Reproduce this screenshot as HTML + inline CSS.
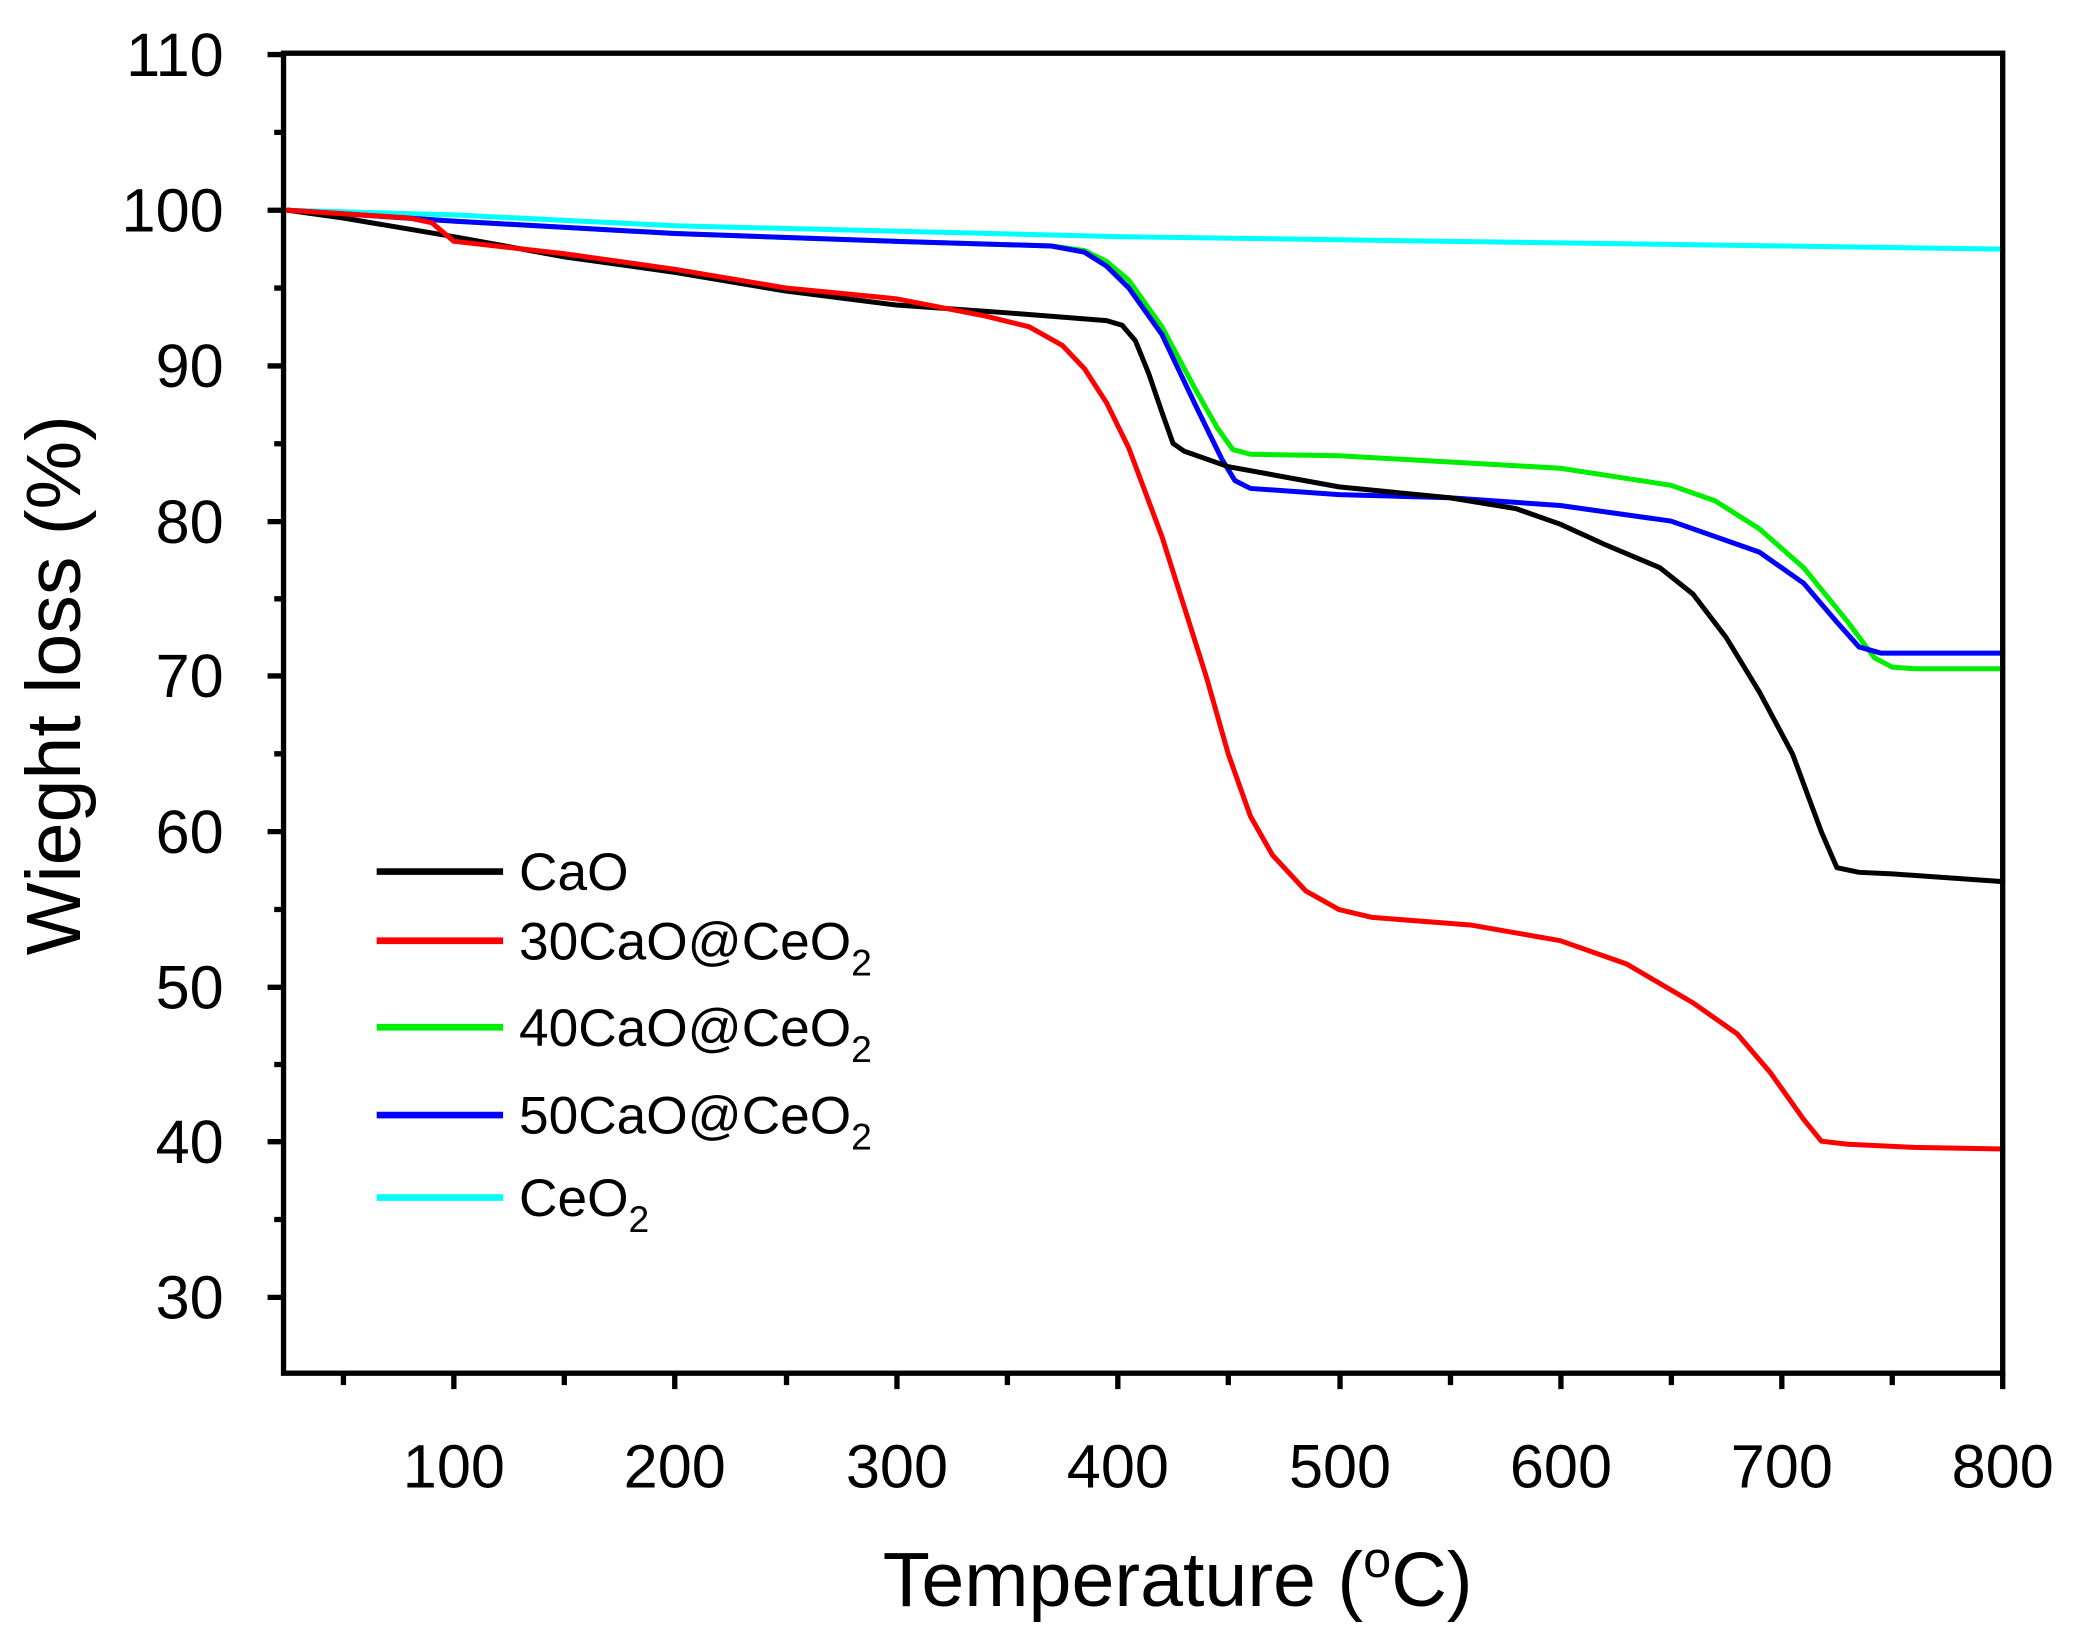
<!DOCTYPE html>
<html><head><meta charset="utf-8"><style>html,body{margin:0;padding:0;background:#fff}svg{display:block}text{font-family:"Liberation Sans",Arial,sans-serif;fill:#000}</style></head>
<body>
<svg width="2076" height="1634" viewBox="0 0 1560 1228" xmlns="http://www.w3.org/2000/svg">
<g transform="matrix(1.663 0 0 -11.68 174.7 1326)" fill="none" stroke-linejoin="round" stroke-linecap="round" stroke-width="5">
<polyline vector-effect="non-scaling-stroke" stroke="#00ffff" points="25,100 100,99.7 200,99 400,98.3 600,97.9 800,97.5"/>
<polyline vector-effect="non-scaling-stroke" stroke="#00ee00" points="25,100 100,99.3 200,98.5 300,98 370,97.7 385,97.4 395,96.7 405,95.5 420,92.5 435,88.5 445,86 452,84.6 460,84.3 500,84.2 600,83.4 650,82.3 670,81.3 690,79.5 710,77 730,73.5 742,71.2 750,70.6 760,70.5 800,70.5"/>
<polyline vector-effect="non-scaling-stroke" stroke="#0000ff" points="25,100 100,99.3 200,98.5 300,98 370,97.7 385,97.3 395,96.4 405,95 420,92 435,87.5 447,84 453,82.6 460,82.1 500,81.7 550,81.5 600,81 650,80 690,78 710,76 725,73.5 735,71.9 745,71.5 800,71.5"/>
<polyline vector-effect="non-scaling-stroke" stroke="#000" points="25,100 50,99.5 100,98.3 150,97 200,96 250,94.8 300,93.9 350,93.4 395,92.9 402,92.6 408,91.6 414,89.5 420,87 425,85 430,84.5 450,83.5 500,82.2 550,81.5 580,80.8 600,79.8 620,78.5 645,77 660,75.3 675,72.5 690,69 705,65 718,60 725,57.7 735,57.4 750,57.3 800,56.8"/>
<polyline vector-effect="non-scaling-stroke" stroke="#ff0000" points="25,100 80,99.5 90,99.2 100,98 150,97.2 200,96.2 250,95 300,94.3 340,93.2 360,92.5 375,91.3 385,89.8 395,87.6 405,84.7 420,79 430,74.5 440,70 450,65 460,61 470,58.5 485,56.2 500,55 515,54.5 560,54 600,53 630,51.5 660,49 680,47 695,44.5 710,41.5 718,40.1 730,39.9 760,39.7 800,39.6"/>
</g>
<rect x="213" y="40" width="1292" height="992" fill="none" stroke="#000" stroke-width="4"/>
<g stroke="#000" stroke-width="4">
<path d="M213 41h-12M213 158h-12M213 275h-12M213 392h-12M213 508h-12M213 625h-12M213 742h-12M213 858h-12M213 975h-12"/>
<path d="M213 99.5h-7M213 216.5h-7M213 333.5h-7M213 450h-7M213 566.5h-7M213 683.5h-7M213 800h-7M213 916.5h-7"/>
<path d="M341 1032v12M507 1032v12M674 1032v12M840 1032v12M1007 1032v12M1173 1032v12M1339 1032v12M1505 1032v12"/>
<path d="M258 1032v9M424 1032v9M591 1032v9M757 1032v9M923 1032v9M1090 1032v9M1256 1032v9M1422 1032v9"/>
</g>
<g font-size="46" text-anchor="end">
<text x="168" y="57">110</text><text x="168" y="174">100</text><text x="168" y="291">90</text><text x="168" y="408">80</text><text x="168" y="524">70</text><text x="168" y="641">60</text><text x="168" y="758">50</text><text x="168" y="874">40</text><text x="168" y="991">30</text>
</g>
<g font-size="46" text-anchor="middle">
<text x="341" y="1118">100</text><text x="507" y="1118">200</text><text x="674" y="1118">300</text><text x="840" y="1118">400</text><text x="1007" y="1118">500</text><text x="1173" y="1118">600</text><text x="1339" y="1118">700</text><text x="1505" y="1118">800</text>
</g>
<text x="885" y="1207" font-size="58" text-anchor="middle">Temperature (<tspan font-size="38" dy="-22">o</tspan><tspan dy="22">C)</tspan></text>
<text transform="translate(60 515) rotate(-90)" font-size="58" text-anchor="middle">Wieght loss (%)</text>
<g stroke-width="5">
<line x1="283" y1="655" x2="378" y2="655" stroke="#000"/>
<line x1="283" y1="707" x2="378" y2="707" stroke="#ff0000"/>
<line x1="283" y1="772" x2="378" y2="772" stroke="#00ee00"/>
<line x1="283" y1="838" x2="378" y2="838" stroke="#0000ff"/>
<line x1="283" y1="900" x2="378" y2="900" stroke="#00ffff"/>
</g>
<g font-size="40">
<text x="390" y="669">CaO</text>
<text x="390" y="721">30CaO@CeO<tspan font-size="28" dy="12">2</tspan></text>
<text x="390" y="786">40CaO@CeO<tspan font-size="28" dy="12">2</tspan></text>
<text x="390" y="852">50CaO@CeO<tspan font-size="28" dy="12">2</tspan></text>
<text x="390" y="914">CeO<tspan font-size="28" dy="12">2</tspan></text>
</g>
</svg>
</body></html>
